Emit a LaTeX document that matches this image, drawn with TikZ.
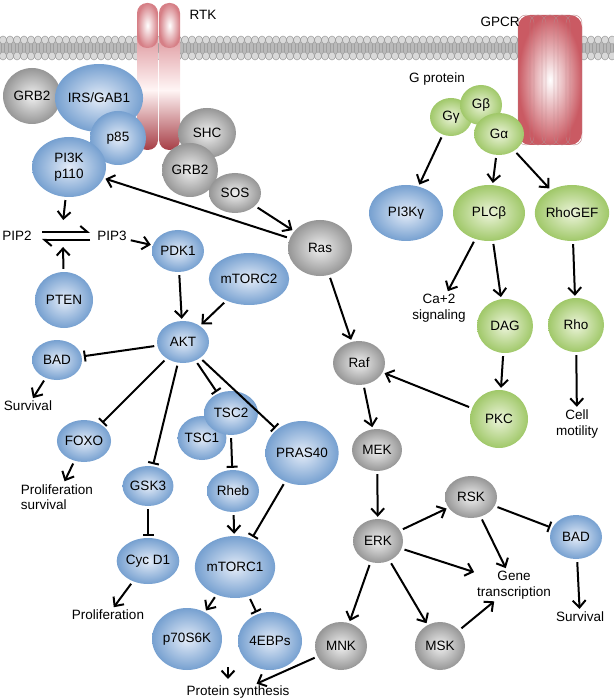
\documentclass[tikz,border=0pt]{standalone}
\usepackage{fontspec}
\setmainfont{Liberation Sans}
\usetikzlibrary{shapes.geometric,arrows.meta}
\definecolor{bo}{RGB}{118,160,208}
\definecolor{bi}{RGB}{228,236,248}
\definecolor{go}{RGB}{150,150,150}
\definecolor{gi}{RGB}{240,240,240}
\definecolor{eo}{RGB}{160,200,105}
\definecolor{ei}{RGB}{236,244,218}
\definecolor{ro}{RGB}{196,72,82}
\definecolor{ri}{RGB}{255,245,245}
\begin{document}
\begin{tikzpicture}[x=1pt,y=-1pt,font=\fontsize{13.5}{15.5}\selectfont,
 mol/.style={ellipse,inner sep=0pt,align=center},
 bl/.style={mol,inner color=bi,outer color=bo},
 gr/.style={mol,inner color=gi,outer color=go},
 gn/.style={mol,inner color=ei,outer color=eo},
 txt/.style={align=center,inner sep=1pt},
 act/.style={line width=2pt,-{Straight Barb[length=7pt,width=13pt,line width=2pt]},shorten <=3pt,shorten >=2pt},
 inh/.style={line width=2pt,-{Bar[width=11pt,line width=2pt]},shorten <=3pt,shorten >=2pt},
 harp/.style={line width=2pt,-{Straight Barb[left,length=7pt,width=12pt,line width=2pt]}}]
\useasboundingbox (0,0) rectangle (613,700);
% membrane
\fill[gray!55] (0,38) rectangle (613,58);
\foreach \i in {0,...,88}{
 \draw[gray!80,fill=gray!30,line width=0.5pt] (\i*7+3,40) ellipse (3.6 and 4);
 \draw[gray!80,fill=gray!30,line width=0.5pt] (\i*7+3,56) ellipse (3.6 and 4);
 \draw[gray!75,line width=0.5pt] (\i*7+1.5,44) -- (\i*7+1.5,52) (\i*7+4.5,44) -- (\i*7+4.5,52);
}
% RTK
\foreach \x in {137,159}{
 \shade[top color=ro!60,bottom color=ro!85!black,middle color=ri,rounded corners=10pt] (\x,30) rectangle (\x+21,150);
 \shade[inner color=white,outer color=ro!70,rounded corners=10pt] (\x,3) rectangle (\x+21,48);
}
\node[txt] (rtk) at (203,15) {RTK};
% GPCR
\shade[inner color=white,outer color=ro!90,rounded corners=12pt] (518,15) rectangle (582,145);
\foreach \x in {518,530,542,554,566}{
 \draw[ro!70!black!60,line width=0.4pt,rounded corners=8pt] (\x,15) rectangle (\x+16,145);
}
\node[txt] (gpcr) at (500,22) {GPCR};
\node[txt] (gprot) at (437,79) {G protein};
% nodes left top
\node[gr,minimum width=58,minimum height=56] (grb2a) at (32,96) {GRB2};
\node[bl,minimum width=82,minimum height=68] (irs) at (99,98) {IRS/GAB1};
\node[bl,minimum width=56,minimum height=54] (p85) at (118,138) {p85};
\node[bl,minimum width=74,minimum height=60] (pi3k) at (69,167) {PI3K\\p110};
\node[gr,minimum width=58,minimum height=50] (shc) at (207,133) {SHC};
\node[gr,minimum width=56,minimum height=54] (grb2b) at (190,170) {GRB2};
\node[gr,minimum width=52,minimum height=40] (sos) at (235,193) {SOS};
% G protein
\node[gn,minimum width=42,minimum height=38] (gg) at (451,117) {Gγ};
\node[gn,minimum width=42,minimum height=40] (gb) at (481,105) {Gβ};
\node[gn,minimum width=50,minimum height=42] (ga) at (499,134) {Gα};
\node[bl,minimum width=74,minimum height=56] (pi3kg) at (406,213) {PI3Kγ};
\node[gn,minimum width=72,minimum height=56] (plc) at (489,213) {PLCβ};
\node[gn,minimum width=74,minimum height=56] (rhogef) at (572,213) {RhoGEF};
\node[gr,minimum width=64,minimum height=56] (ras) at (320,248) {Ras};
\node[txt] (ca) at (439,308) {Ca+2\\signaling};
\node[gn,minimum width=56,minimum height=54] (dag) at (505,326) {DAG};
\node[gn,minimum width=56,minimum height=54] (rho) at (576,325) {Rho};
\node[gr,minimum width=52,minimum height=44] (raf) at (359,363) {Raf};
\node[gn,minimum width=58,minimum height=58] (pkc) at (499,419) {PKC};
\node[txt] (cell) at (577,424) {Cell\\motility};
\node[gr,minimum width=50,minimum height=42] (mek) at (377,450) {MEK};
\node[gr,minimum width=50,minimum height=44] (erk) at (378,541) {ERK};
\node[gr,minimum width=52,minimum height=42] (rsk) at (471,497) {RSK};
\node[bl,minimum width=52,minimum height=44] (badr) at (576,537) {BAD};
\node[txt] (gene) at (514,585) {Gene\\transcription};
\node[txt] (survr) at (580,617) {Survival};
\node[gr,minimum width=52,minimum height=48] (mnk) at (341,646) {MNK};
\node[gr,minimum width=50,minimum height=48] (msk) at (440,646) {MSK};
% PIP
\node[txt] (pip2) at (17,236) {PIP2};
\node[txt] (pip3) at (112,236) {PIP3};
\coordinate (h1a) at (42,232); \coordinate (h1b) at (90,232);
\coordinate (h2a) at (90,240); \coordinate (h2b) at (42,240);
\coordinate (pu) at (63,222);
\coordinate (pd) at (63,245);
\node[bl,minimum width=58,minimum height=56] (pten) at (64,300) {PTEN};
\node[bl,minimum width=52,minimum height=42] (pdk1) at (178,251) {PDK1};
\node[bl,minimum width=74,minimum height=52] (mtorc2) at (249,279) {mTORC2};
% AKT area
\node[bl,minimum width=52,minimum height=42] (akt) at (183,342) {AKT};
\node[bl,minimum width=50,minimum height=40] (badl) at (57,360) {BAD};
\node[txt] (survl) at (28,406) {Survival};
\node[bl,minimum width=48,minimum height=42] (foxo) at (84,441) {FOXO};
\node[txt,align=left] (prolsurv) at (57,497) {Proliferation\\survival};
\node[bl,minimum width=50,minimum height=40] (gsk3) at (148,486) {GSK3};
\node[bl,minimum width=60,minimum height=46] (cycd1) at (148,561) {Cyc D1};
\node[txt] (prol) at (108,615) {Proliferation};
\node[bl,minimum width=48,minimum height=44] (tsc1) at (202,438) {TSC1};
\node[bl,minimum width=54,minimum height=44] (tsc2) at (231,413) {TSC2};
\node[bl,minimum width=52,minimum height=42] (rheb) at (233,491) {Rheb};
\node[bl,minimum width=64,minimum height=64] (pras) at (302,453) {PRAS40};
\node[bl,minimum width=80,minimum height=62] (mtorc1) at (235,567) {mTORC1};
\node[bl,minimum width=70,minimum height=62] (p70) at (187,639) {p70S6K};
\node[bl,minimum width=64,minimum height=58] (ebp) at (270,641) {4EBPs};
\node[txt] (prot) at (238,692) {Protein synthesis};
\coordinate (ps1) at (228,664);
\coordinate (ps2) at (228,681);
% connectors
\draw[act] (pi3k) -- (pu);
\draw[act] (pten) -- (pd);
\draw[harp] (h1a) -- (h1b);
\draw[harp] (h2a) -- (h2b);
\draw[act] (pip3) -- (pdk1);
\draw[act] (ras) -- (pi3k);
\draw[act] (sos) -- (ras);
\draw[act] (gg) -- (pi3kg);
\draw[act] (ga) -- (plc);
\draw[act] (ga) -- (rhogef);
\draw[act] (plc) -- (ca);
\draw[act] (plc) -- (dag);
\draw[act] (rhogef) -- (rho);
\draw[act] (dag) -- (pkc);
\draw[act] (rho) -- (cell);
\draw[act] (pkc) -- (raf);
\draw[act] (ras) -- (raf);
\draw[act] (raf) -- (mek);
\draw[act] (mek) -- (erk);
\draw[act] (erk) -- (rsk);
\draw[act] (erk) -- (gene);
\draw[act] (rsk) -- (gene);
\draw[inh] (rsk) -- (badr);
\draw[act] (badr) -- (survr);
\draw[act] (erk) -- (mnk);
\draw[act] (erk) -- (msk);
\draw[act] (msk) -- (gene);
\draw[act] (mnk) -- (prot);
\draw[act] (pdk1) -- (akt);
\draw[act] (mtorc2) -- (akt);
\draw[inh] (akt) -- (badl);
\draw[act] (badl) -- (survl);
\draw[inh] (akt) -- (foxo);
\draw[act] (foxo) -- (prolsurv);
\draw[inh] (akt) -- (gsk3);
\draw[inh] (gsk3) -- (cycd1);
\draw[act] (cycd1) -- (prol);
\draw[inh] (akt) -- (tsc2);
\draw[inh] (tsc2.south) -- (rheb);
\draw[act] (rheb) -- (mtorc1);
\draw[inh] (pras) -- (mtorc1);
\draw[inh] (akt) -- (pras);
\draw[act] (mtorc1) -- (p70);
\draw[inh] (mtorc1) -- (ebp);
\draw[act] (ps1) -- (ps2);
\end{tikzpicture}
\end{document}
